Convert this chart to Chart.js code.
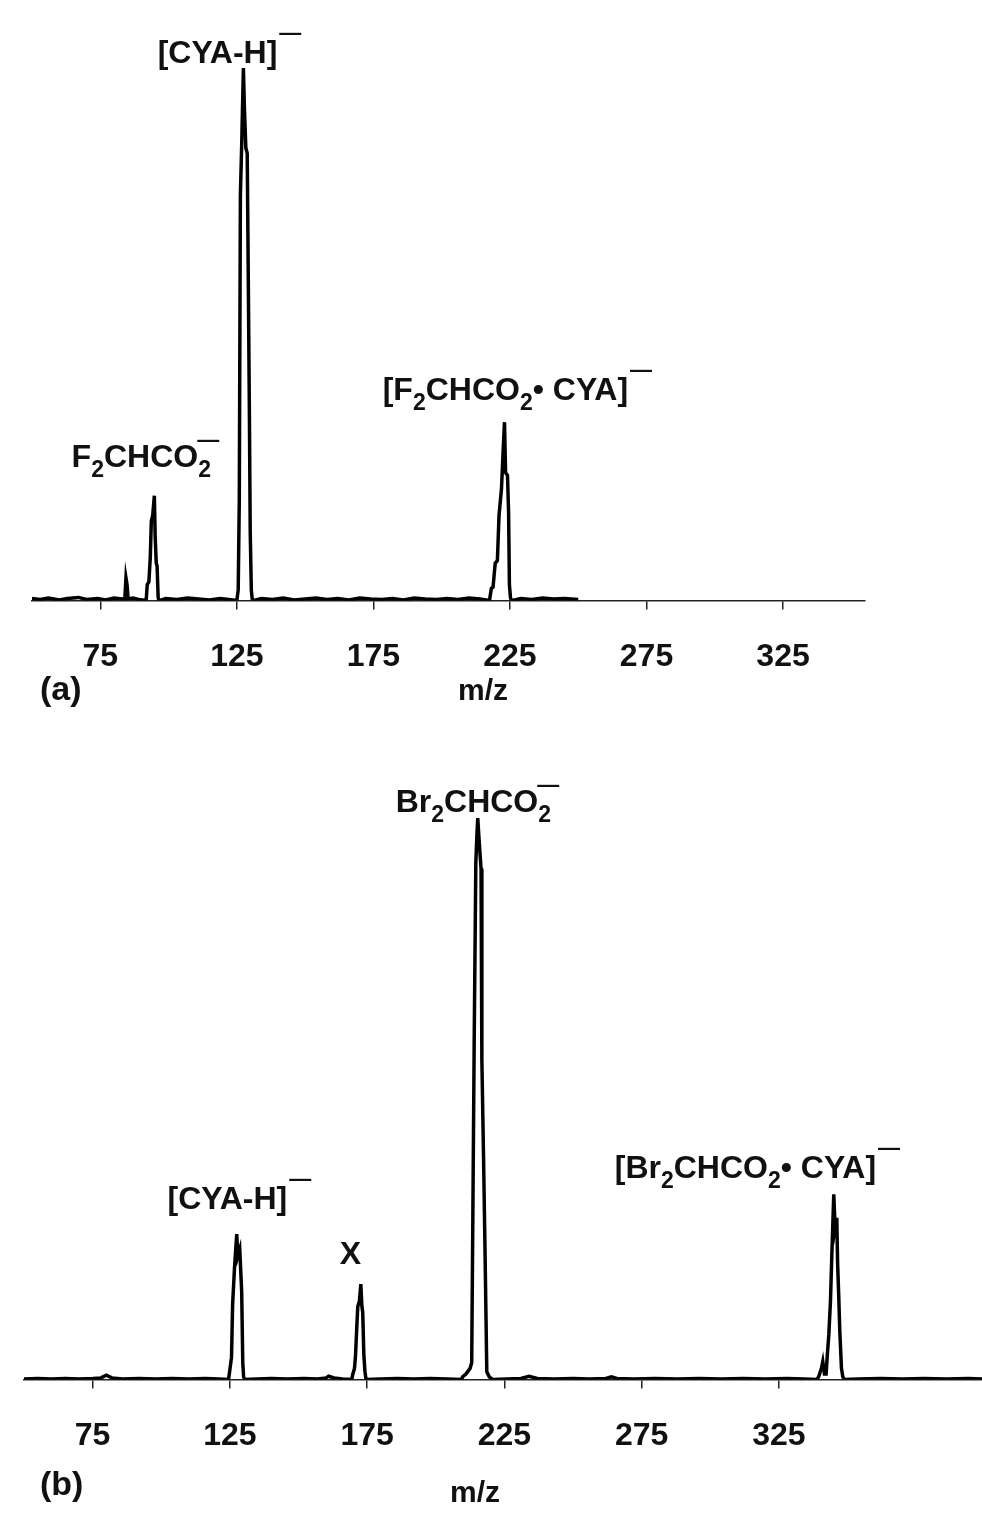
<!DOCTYPE html>
<html>
<head>
<meta charset="utf-8">
<script src="https://cdn.jsdelivr.net/npm/chart.js@4.4.1/dist/chart.umd.min.js"></script>
<style>
  body { margin: 0; background: #fff; }
  .panel { position: absolute; left: 0; width: 982px; height: 760px; }
</style>
</head>
<body>
<div class="panel" style="top:0"><canvas id="chartA" width="982" height="760"></canvas></div>
<div class="panel" style="top:760px"><canvas id="chartB" width="982" height="760"></canvas></div>
<script>
// tick labels (both panels)
const mzTicks = [75, 125, 175, 225, 275, 325];

// panel (a) – CYA + difluoroacetate
const mzA = [50, 53, 56, 60, 63, 67, 70, 74, 77, 80, 83, 84.0, 84.4, 84.8, 85.2, 87, 89,
  91.8, 92.2, 92.8, 93.3, 93.7, 94.2, 94.8, 95.1, 95.5, 95.8, 96.2, 96.6,
  99, 103, 107, 111, 115, 119, 122,
  125.0, 125.5, 125.9, 126.3, 126.8, 127.4, 127.8, 128.3, 128.8, 129.2, 129.6, 129.9, 130.3, 130.7,
  134, 138, 142, 146, 150, 154, 158, 162, 166, 170, 174, 178, 182, 186, 190, 194, 198, 202, 206, 210, 214,
  217.5, 218.2, 218.8, 219.6, 220.4, 221.0, 221.9, 222.5, 223.0, 223.4, 224.1, 224.5, 224.8, 225.2, 225.6,
  229, 233, 237, 241, 245, 250];
const intA = [0.4, 0.2, 0.5, 0.1, 0.4, 0.6, 0.2, 0.4, 0.1, 0.5, 0.3, 0.4, 4.3, 3.0, 0.3, 0.5, 0.2,
  0, 3, 3.5, 8, 15, 16, 19.7, 12, 7, 6.5, 0.5, 0,
  0.4, 0.2, 0.5, 0.3, 0.1, 0.4, 0.2,
  0, 2, 19, 76, 86, 100, 92, 85, 84, 60, 35, 13, 2, 0,
  0.4, 0.2, 0.5, 0.1, 0.3, 0.5, 0.2, 0.4, 0.1, 0.5, 0.3, 0.2, 0.4, 0.1, 0.5, 0.3, 0.2, 0.4, 0.2, 0.5, 0.3,
  0, 2.3, 2.5, 7, 7.5, 16, 21, 28, 33.5, 24, 23.5, 16.5, 3, 0.5, 0,
  0.4, 0.2, 0.5, 0.3, 0.4, 0.2];

// panel (b) – CYA + dibromoacetate
const mzB = [50, 55, 60, 65, 70, 75, 78, 80, 82, 86, 92, 98, 104, 110, 116, 121,
  124.5, 124.9, 125.6, 126.0, 126.7, 127.5, 127.9, 128.6, 129.3, 129.7, 130.0, 130.4,
  135, 140, 146, 152, 157, 160, 161, 163, 166,
  169.4, 169.8, 170.4, 170.8, 171.2, 171.6, 172.2, 172.7, 173.1, 173.4, 173.8, 174.2, 174.6,
  180, 186, 192, 198, 204,
  209.4, 209.8, 211.0, 212.5, 213.1, 213.5, 214.0, 214.6, 215.0, 215.3, 215.8, 216.5, 216.8, 217.4, 217.9, 218.6, 219.5, 220.8,
  226, 231, 234, 237, 243, 250, 256, 262, 264, 266, 272, 280, 288, 296, 304, 312, 320, 328, 334,
  338.8, 339.5, 340.5, 341.0, 341.6, 342.2, 342.6, 343.2, 343.8, 344.3, 345.0, 345.5, 346.1, 346.4, 346.8, 347.2, 347.8, 348.3, 348.8,
  354, 362, 370, 378, 386, 394, 399];
const intB = [0.1, 0.2, 0.1, 0.2, 0.1, 0.2, 0.3, 0.8, 0.3, 0.1, 0.2, 0.1, 0.2, 0.1, 0.2, 0.1,
  0, 1.4, 4, 13.4, 20, 25.9, 22, 23.2, 15.7, 3, 0.5, 0,
  0.1, 0.2, 0.1, 0.2, 0.1, 0.3, 0.6, 0.3, 0.1,
  0, 1, 2, 4.5, 9, 13, 14, 17, 13, 12, 4.5, 1.5, 0,
  0.1, 0.2, 0.1, 0.2, 0.1,
  0, 0.5, 1, 2, 3, 28, 60, 92, 97, 100, 96, 91, 57, 40, 24.6, 1.4, 0.5, 0,
  0.1, 0.2, 0.6, 0.2, 0.1, 0.2, 0.1, 0.2, 0.5, 0.2, 0.1, 0.2, 0.1, 0.2, 0.1, 0.2, 0.1, 0.2, 0.1,
  0, 0.5, 2, 3.2, 1, 1, 4, 8, 14, 22.3, 33, 27, 28.8, 20.7, 15, 8.6, 2, 0.5, 0,
  0.1, 0.2, 0.1, 0.2, 0.1, 0.2, 0.1];

const FONT = '"Liberation Sans", Arial, sans-serif';

// peak labels: parts ['n' normal, 's' subscript, 'u' superscript bar, 'su' subscript with bar above]
const labelsA = [
  { mz: 96.0, level: 100.9, parts: [['n', '[CYA-H]'], ['u', '\u2014']] },
  { mz: 64.5, level: 25.0, parts: [['n', 'F'], ['s', '2'], ['n', 'CHCO'], ['su', '2']] },
  { mz: 178.4, level: 37.6, parts: [['n', '[F'], ['s', '2'], ['n', 'CHCO'], ['s', '2'], ['n', '\u2022 CYA]'], ['u', '\u2014']] }
];
const labelsB = [
  { mz: 185.4, level: 101.1, parts: [['n', 'Br'], ['s', '2'], ['n', 'CHCO'], ['su', '2']] },
  { mz: 102.3, level: 30.4, parts: [['n', '[CYA-H]'], ['u', '\u2014']] },
  { mz: 165.0, level: 20.5, parts: [['n', 'X']] },
  { mz: 265.2, level: 35.9, parts: [['n', '[Br'], ['s', '2'], ['n', 'CHCO'], ['s', '2'], ['n', '\u2022 CYA]'], ['u', '\u2014']] }
];

function drawRich(ctx, parts, x, y) {
  ctx.fillStyle = '#111';
  ctx.textBaseline = 'alphabetic';
  ctx.textAlign = 'left';
  for (const [kind, txt] of parts) {
    if (kind === 'n') {
      ctx.font = 'bold 32px ' + FONT;
      ctx.fillText(txt, x, y);
      x += ctx.measureText(txt).width;
    } else if (kind === 's') {
      ctx.font = 'bold 23px ' + FONT;
      ctx.fillText(txt, x, y + 10);
      x += ctx.measureText(txt).width;
    } else if (kind === 'u') {
      ctx.font = 'bold 22px ' + FONT;
      ctx.fillText(txt, x + 2, y - 23);
      x += ctx.measureText(txt).width;
    } else if (kind === 'su') {
      ctx.font = 'bold 23px ' + FONT;
      ctx.fillText(txt, x, y + 10);
      ctx.font = 'bold 22px ' + FONT;
      ctx.fillText('\u2014', x - 1, y - 20);
      x += 20;
    }
  }
}

function panelText(labels, tag, tagX, tagY, axX, axY) {
  return {
    id: 'panelText',
    afterDraw(chart) {
      const ctx = chart.ctx;
      const xs = chart.scales.x, ys = chart.scales.y;
      ctx.save();
      labels.forEach(l => drawRich(ctx, l.parts, xs.getPixelForValue(l.mz), ys.getPixelForValue(l.level)));
      ctx.font = 'bold 34px ' + FONT;
      ctx.fillText(tag, tagX, tagY);
      ctx.font = 'bold 30px ' + FONT;
      ctx.fillText('m/z', axX, axY);
      ctx.restore();
    }
  };
}

function makeChart(id, mz, inten, xMax, pad, labels, tag, tagY, axX, axY) {
  return new Chart(document.getElementById(id), {
    type: 'line',
    data: {
      datasets: [{
        data: mz.map((m, i) => ({ x: m, y: inten[i] })),
        borderColor: '#000',
        borderWidth: 3.5,
        pointRadius: 0,
        tension: 0,
        fill: false
      }]
    },
    options: {
      responsive: false,
      animation: false,
      devicePixelRatio: 1,
      layout: { padding: pad },
      plugins: { legend: { display: false }, tooltip: { enabled: false } },
      scales: {
        x: {
          type: 'linear',
          min: 50,
          max: xMax,
          afterBuildTicks: s => { s.ticks = mzTicks.map(v => ({ value: v })); },
          grid: { drawOnChartArea: false, drawTicks: true, tickLength: 9, color: '#222', lineWidth: 1.5 },
          border: { display: true, color: '#222', width: 1.5 },
          ticks: { font: { family: FONT, size: 32, weight: 'bold' }, color: '#111', padding: 28, maxRotation: 0, autoSkip: false }
        },
        y: { display: false, min: 0, max: 100 }
      }
    },
    plugins: [panelText(labels, tag, 40, tagY, axX, axY)]
  });
}

makeChart('chartA', mzA, intA, 355, { left: 32, right: 117, top: 68, bottom: 56 }, labelsA, '(a)', 700, 458, 700);
makeChart('chartB', mzB, intB, 399, { left: 24, right: 0, top: 58, bottom: 37 }, labelsB, '(b)', 735, 450, 742);
</script>
</body>
</html>
